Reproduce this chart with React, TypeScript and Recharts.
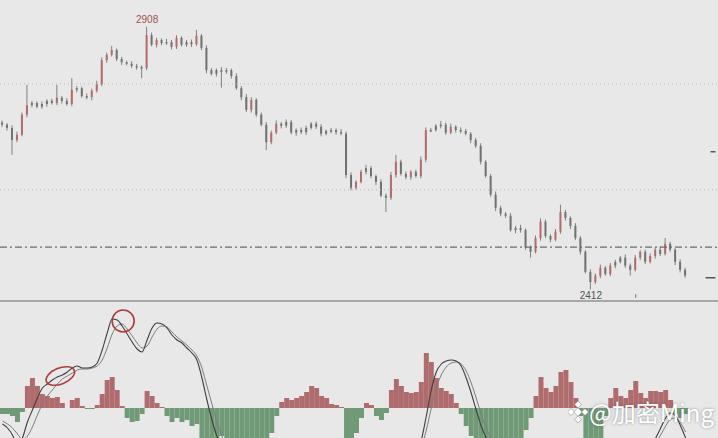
import React from "react";
import {
  ComposedChart,
  Bar,
  Line,
  Cell,
  XAxis,
  YAxis,
  ReferenceLine,
  ReferenceDot,
} from "recharts";

// closing prices, one per candle (open = previous close)
const closes = [
  2723, 2717, 2694, 2704, 2742, 2760, 2764, 2757, 2762, 2768,
  2764, 2774, 2768, 2762, 2789, 2792, 2777, 2775, 2787, 2800,
  2845, 2855, 2864, 2847, 2841, 2838, 2834, 2832, 2830, 2892,
  2874, 2883, 2877, 2879, 2870, 2887, 2874, 2879, 2875, 2891,
  2868, 2826, 2819, 2826, 2823, 2826, 2815, 2792, 2775, 2751,
  2770, 2742, 2723, 2690, 2708, 2725, 2721, 2728, 2708, 2713,
  2709, 2717, 2725, 2719, 2706, 2711, 2713, 2709, 2706, 2628,
  2604, 2615, 2634, 2641, 2626, 2615, 2589, 2585, 2628, 2653,
  2630, 2624, 2634, 2626, 2657, 2713, 2713, 2721, 2723, 2708,
  2719, 2713, 2711, 2706, 2694, 2683, 2653, 2626, 2591, 2566,
  2555, 2551, 2524, 2528, 2524, 2491, 2483, 2509, 2540, 2513,
  2506, 2521, 2558, 2547, 2532, 2509, 2483, 2445, 2426, 2438,
  2453, 2441, 2457, 2464, 2472, 2457, 2449, 2472, 2483, 2464,
  2475, 2487, 2479, 2498, 2487, 2464, 2449, 2438,
];
const firstOpen = 2727;

// upper / lower shadow lengths
const wickUp = [
  4, 3, 5, 6, 4, 38, 4, 3, 5, 3,
  4, 24, 3, 5, 22, 4, 3, 5, 4, 6,
  5, 4, 8, 3, 4, 3, 5, 4, 3, 16,
  5, 4, 3, 6, 4, 5, 3, 4, 5, 11,
  3, 5, 4, 3, 6, 4, 3, 5, 4, 6,
  5, 3, 4, 5, 4, 6, 3, 5, 4, 3,
  5, 4, 3, 4, 5, 3, 4, 3, 6, 4,
  5, 3, 4, 6, 4, 3, 5, 4, 6, 13,
  4, 5, 3, 4, 6, 5, 4, 3, 7, 4,
  6, 3, 5, 4, 3, 4, 5, 3, 4, 6,
  4, 3, 5, 4, 6, 3, 4, 5, 6, 4,
  3, 5, 14, 4, 3, 5, 4, 3, 5, 4,
  6, 3, 5, 4, 3, 6, 4, 5, 3, 4,
  5, 4, 6, 11, 4, 3, 5, 4,
];
const wickDn = [
  4, 5, 28, 4, 3, 5, 4, 3, 4, 5,
  3, 4, 5, 3, 4, 5, 3, 4, 6, 3,
  4, 5, 3, 4, 5, 3, 4, 5, 19, 4,
  3, 5, 4, 3, 5, 4, 3, 4, 5, 3,
  4, 6, 3, 5, 30, 4, 5, 3, 6, 4,
  5, 4, 3, 15, 4, 3, 5, 4, 3, 6,
  4, 5, 3, 4, 5, 3, 4, 5, 3, 6,
  5, 4, 3, 5, 4, 6, 3, 27, 4, 5,
  3, 4, 5, 3, 4, 5, 4, 3, 5, 4,
  3, 5, 4, 3, 6, 4, 5, 3, 4, 6,
  5, 4, 3, 6, 5, 4, 11, 3, 5, 4,
  5, 3, 4, 5, 6, 4, 5, 3, 14, 4,
  5, 3, 4, 5, 3, 4, 11, 3, 5, 4,
  3, 5, 4, 3, 4, 6, 5, 4,
];

// MACD panel
const hist = [
  -6, -6, -8, -14, -4, 22, 30, 22, 14, 12,
  10, 11, 5, 0, 8, 10, 2, -1, -1, 3,
  14, 28, 31, 18, 2, -10, -14, -13, -6, 17,
  12, 5, 1, -8, -14, -10, -14, -12, -18, -16,
  -30, -40, -40, -40, -28, -30, -40, -40, -40, -40,
  -40, -30, -40, -40, -25, -8, 6, 10, 8, 10,
  12, 16, 22, 20, 12, 10, 4, 3, 1, -30,
  -40, -25, -10, 5, 3, -8, -12, -5, 18, 29,
  22, 16, 15, 16, 26, 55, 46, 30, 20, 17,
  14, 5, -6, -18, -28, -40, -40, -40, -40, -35,
  -40, -40, -40, -38, -30, -22, -10, 12, 31, 20,
  16, 22, 36, 38, 26, 10, -8, -30, -40, -40,
  -30, -8, 10, 20, 12, 10, 18, 27, 15, 10,
  17, 17, 16, 18, 8, -6, -10, -6,
];
const dif = [
  -16, -20, -27, -38, -30, -14, -2, 10, 20, 24,
  28, 31, 33, 36, 40, 42, 40, 40, 41, 45,
  58, 75, 89, 88, 82, 74, 66, 59, 56, 68,
  80, 85, 84, 80, 73, 68, 65, 60, 55, 48,
  30, 8, -12, -28, -38, -50, -58, -62, -66, -70,
  -72, -74, -75, -76, -76, -75, -74, -72, -70, -70,
  -69, -68, -67, -66, -68, -70, -72, -74, -75, -78,
  -80, -80, -79, -77, -75, -74, -72, -70, -68, -64,
  -62, -60, -55, -45, -32, -8, 18, 36, 44, 47,
  48, 47, 42, 30, 15, -2, -18, -30, -42, -52,
  -60, -66, -70, -74, -76, -78, -78, -77, -76, -74,
  -72, -70, -68, -68, -70, -72, -74, -76, -76, -74,
  -72, -70, -68, -66, -64, -62, -60, -58, -52, -45,
  -38, -30, -20, -10, -5, -8, -18, -30,
];
const dea = [
  -13, -16, -20, -26, -31, -28, -19, -7, 4, 12,
  18, 24, 29, 32, 35, 38, 39, 39, 40, 42,
  48, 60, 74, 82, 84, 79, 72, 65, 60, 62,
  71, 79, 82, 81, 76, 71, 67, 63, 58, 52,
  40, 22, 4, -14, -28, -40, -50, -56, -61, -65,
  -68, -70, -72, -73, -74, -74, -73, -72, -71, -70,
  -70, -69, -68, -67, -67, -68, -70, -72, -73, -75,
  -77, -78, -78, -77, -76, -75, -73, -71, -69, -67,
  -65, -63, -60, -52, -40, -22, 0, 20, 33, 41,
  45, 46, 44, 37, 25, 10, -6, -20, -32, -44,
  -53, -60, -65, -69, -72, -75, -76, -76, -75, -74,
  -73, -71, -70, -69, -69, -70, -72, -74, -75, -75,
  -74, -72, -70, -68, -66, -64, -62, -60, -56, -50,
  -43, -35, -27, -18, -11, -10, -15, -24,
];

const padCount = 6; // empty slots on the right side
const gridLevels = [2800, 2600];
const pivotLevel = 2492;
const sideMarks = [2672, 2434];
const highIdx = 29;
const lowIdx = 118;

const UP = "#b76a6a";
const DOWN = "#6f736f";

type Row = {
  i: number;
  open: number | null;
  close: number | null;
  high: number | null;
  low: number | null;
  range: [number, number] | null;
  hist: number | null;
  dif: number | null;
  dea: number | null;
};

const rows: Row[] = closes.map((c, i) => {
  const o = i === 0 ? firstOpen : closes[i - 1];
  const hi = Math.max(o, c) + wickUp[i];
  const lo = Math.min(o, c) - wickDn[i];
  return {
    i,
    open: o,
    close: c,
    high: hi,
    low: lo,
    range: [lo, hi],
    hist: hist[i],
    dif: dif[i],
    dea: dea[i],
  };
});
for (let k = 0; k < padCount; k++) {
  rows.push({
    i: closes.length + k,
    open: null,
    close: null,
    high: null,
    low: null,
    range: null,
    hist: null,
    dif: null,
    dea: null,
  });
}

function Candle(props: any) {
  const { x, y, width, height, payload } = props;
  if (!payload || payload.high == null || height == null) return null;
  const { open, close, high, low } = payload;
  const top = height < 0 ? y + height : y;
  const h = Math.abs(height);
  const k = h / (high - low || 1);
  const bTop = top + (high - Math.max(open, close)) * k;
  const bBot = top + (high - Math.min(open, close)) * k;
  const cx = x + width / 2;
  const color = close - open > 8 ? UP : DOWN;
  return (
    <g>
      <line x1={cx} x2={cx} y1={top} y2={top + h} stroke="#7d817d" strokeWidth={1} />
      <rect x={x} y={bTop} width={width} height={Math.max(1.5, bBot - bTop)} fill={color} />
    </g>
  );
}

function Watermark() {
  return (
    <div
      style={{
        position: "absolute",
        left: 568,
        top: 394,
        display: "flex",
        alignItems: "center",
        color: "#ffffff",
        fontFamily: "'Noto Sans CJK SC', 'Noto Sans', sans-serif",
        fontSize: 24,
        textShadow: "0 0 3px rgba(70,70,70,0.55)",
        pointerEvents: "none",
      }}
    >
      <svg width={20} height={24} viewBox="0 0 20 24" style={{ marginRight: 1 }}>
        <g fill="#ffffff" stroke="rgba(90,90,90,0.45)" strokeWidth={0.8}>
          <rect x={7} y={9} width={6} height={6} transform="rotate(45 10 12)" />
          <rect x={7.5} y={2} width={5} height={5} transform="rotate(45 10 4.5)" />
          <rect x={7.5} y={17} width={5} height={5} transform="rotate(45 10 19.5)" />
          <rect x={0.5} y={9.5} width={5} height={5} transform="rotate(45 3 12)" />
          <rect x={14.5} y={9.5} width={5} height={5} transform="rotate(45 17 12)" />
        </g>
      </svg>
      <span>@加密Ming</span>
    </div>
  );
}

export default function App() {
  const labelStyle = { fontSize: 10, fontFamily: "'Liberation Sans', Arial, sans-serif" };
  return (
    <div
      style={{
        position: "absolute",
        left: 0,
        top: 0,
        width: 718,
        height: 438,
        background: "#e8e8e8",
        overflow: "hidden",
      }}
    >
      <style>{`.price-panel .recharts-surface { overflow: visible; }`}</style>
      <div className="price-panel" style={{ position: "relative", zIndex: 1 }}>
        <ComposedChart
          width={718}
          height={300}
          data={rows}
          margin={{ top: 0, right: 0, bottom: 0, left: 0 }}
        >
          <XAxis dataKey="i" hide />
          <YAxis hide domain={[2392, 2958.5]} allowDataOverflow />
          {gridLevels.map((g) => (
            <ReferenceLine key={g} y={g} stroke="#b4b4b4" strokeDasharray="1 3" />
          ))}
          <ReferenceLine y={pivotLevel} stroke="#6a6a6a" strokeWidth={1.2} strokeDasharray="7 3 2 3" />
          <ReferenceLine
            segment={[
              { x: 142, y: sideMarks[0] },
              { x: 143, y: sideMarks[0] },
            ]}
            stroke="#555"
            strokeWidth={1.5}
          />
          <ReferenceLine
            segment={[
              { x: 141, y: sideMarks[1] },
              { x: 143, y: sideMarks[1] },
            ]}
            stroke="#555"
            strokeWidth={1.5}
          />
          <ReferenceLine
            segment={[
              { x: 127, y: 2396 },
              { x: 127, y: 2403 },
            ]}
            stroke="#777"
          />
          <Bar dataKey="range" shape={Candle} barSize={2} isAnimationActive={false} />
          <ReferenceDot
            x={highIdx}
            y={rows[highIdx].high as number}
            r={1}
            fill="none"
            stroke="none"
            label={{ value: "2908", position: "top", offset: 3, fill: "#a5504f", ...labelStyle }}
          />
          <ReferenceDot
            x={lowIdx}
            y={rows[lowIdx].low as number}
            r={1}
            fill="none"
            stroke="none"
            label={{ value: "2412", position: "bottom", offset: 1, fill: "#555", ...labelStyle }}
          />
        </ComposedChart>
      </div>
      <div style={{ height: 2, background: "#a8a8a8" }} />
      <ComposedChart
        width={718}
        height={136}
        data={rows}
        margin={{ top: 0, right: 0, bottom: 0, left: 0 }}
        barCategoryGap={0}
        barGap={0}
      >
        <XAxis dataKey="i" hide />
        <YAxis hide domain={[-30, 106]} allowDataOverflow />
        <Bar dataKey="hist" isAnimationActive={false}>
          {rows.map((r) => (
            <Cell key={r.i} fill={(r.hist ?? 0) >= 0 ? "#b06c6c" : "#6f9a75"} />
          ))}
        </Bar>
        <Line
          type="monotone"
          dataKey="dea"
          stroke="#7c7c7c"
          strokeWidth={1}
          dot={false}
          isAnimationActive={false}
        />
        <Line
          type="monotone"
          dataKey="dif"
          stroke="#3e3e3e"
          strokeWidth={1.1}
          dot={false}
          isAnimationActive={false}
        />
        <ReferenceDot
          x={12}
          y={32}
          r={1}
          shape={(p: any) => (
            <ellipse
              cx={p.cx - 2}
              cy={p.cy}
              rx={15}
              ry={8}
              fill="none"
              stroke="#b03a3a"
              strokeWidth={1.6}
              transform={`rotate(-22 ${p.cx - 2} ${p.cy})`}
            />
          )}
        />
        <ReferenceDot
          x={24}
          y={87}
          r={1}
          shape={(p: any) => (
            <circle cx={p.cx + 1} cy={p.cy} r={11} fill="none" stroke="#b03a3a" strokeWidth={1.6} />
          )}
        />
      </ComposedChart>
      <Watermark />
    </div>
  );
}
